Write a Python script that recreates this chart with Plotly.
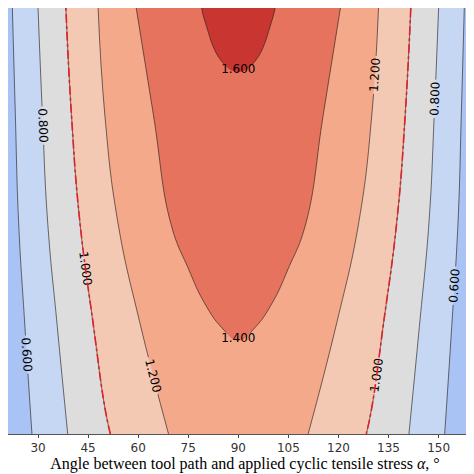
import plotly.graph_objects as go

# offsets from 90 deg (profile is symmetric about 90)
offsets = [0, 5, 10, 15, 20, 30, 40, 50, 60, 70, 75]
# relative height within plot (0 = bottom, 1 = top)
heights = [0.0, 0.25, 0.5, 0.75, 1.0]
# ratio values read per row at each offset
row_0 = [1.33, 1.32, 1.30, 1.26, 1.21, 1.10, 0.98, 0.82, 0.64, 0.42, 0.32]
row_25 = [1.41, 1.40, 1.38, 1.35, 1.31, 1.19, 1.06, 0.88, 0.69, 0.46, 0.35]
row_50 = [1.50, 1.49, 1.47, 1.44, 1.405, 1.28, 1.15, 0.95, 0.74, 0.50, 0.38]
row_75 = [1.56, 1.55, 1.53, 1.50, 1.46, 1.35, 1.20, 1.00, 0.77, 0.52, 0.40]
row_100 = [1.66, 1.65, 1.61, 1.56, 1.51, 1.41, 1.24, 1.04, 0.80, 0.54, 0.42]
rows = [row_0, row_25, row_50, row_75, row_100]

x = [90 - d for d in offsets[::-1]] + [90 + d for d in offsets[1:]]
z = [r[::-1] + r[1:] for r in rows]

band_colors = ["#8aa9ee", "#a9c3f5", "#c6d7f3", "#dddddd",
               "#f3c9b4", "#f4a98a", "#e6735d", "#c93632"]
cs = []
n = len(band_colors)
for i, c in enumerate(band_colors):
    cs.append([i / n, c])
    cs.append([(i + 1) / n, c])

fig = go.Figure()
fig.add_trace(go.Contour(
    x=x, y=heights, z=z,
    zmin=0.2, zmax=1.8,
    colorscale=cs, showscale=False,
    contours=dict(start=0.2, end=1.8, size=0.2, coloring="fill",
                  showlabels=True,
                  labelfont=dict(size=12, color="black", family="DejaVu Sans")),
    contours_labelformat=".3f",
    line=dict(color="rgba(40,30,30,0.8)", width=0.8),
    line_smoothing=1.3,
))
fig.add_trace(go.Contour(
    x=x, y=heights, z=z,
    showscale=False,
    contours=dict(start=1.0, end=1.0, size=0.2, coloring="none"),
    line=dict(color="#e0202a", width=1.6, dash="dashdot"),
    line_smoothing=1.3,
))

fig.update_layout(
    width=474, height=474,
    margin=dict(l=0, r=0, t=0, b=48),
    paper_bgcolor="white",
    plot_bgcolor="white",
    showlegend=False,
)
fig.update_xaxes(
    range=[21, 163], tickvals=[30, 45, 60, 75, 90, 105, 120, 135, 150],
    ticks="outside", ticklen=3, showgrid=False, zeroline=False,
    showline=True, linecolor="#555", mirror=False,
    tickfont=dict(family="DejaVu Sans", size=12, color="#333"),
    title=dict(text="Angle between tool path and applied cyclic tensile stress <i>α</i>, °",
               font=dict(family="Liberation Serif", size=16, color="black"),
               standoff=2),
)
fig.update_yaxes(range=[0, 1], visible=False)

fig.write_html("out.html")
